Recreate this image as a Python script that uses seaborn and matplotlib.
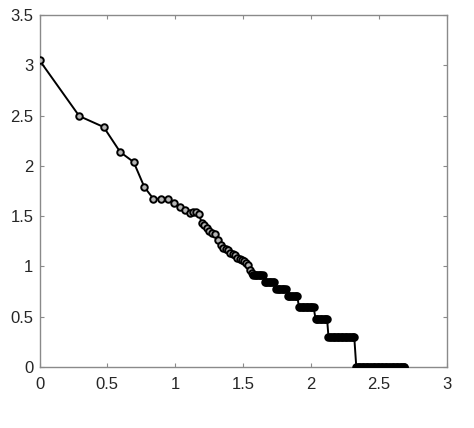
import matplotlib
matplotlib.use("Agg")
import matplotlib.pyplot as plt
import seaborn as sns
import pandas as pd

# ---- data ----
head_x = [0.0, 0.293, 0.473, 0.595, 0.694, 0.773, 0.839, 0.898, 0.947, 0.994,
          1.038, 1.075, 1.109, 1.129, 1.150, 1.175]
head_y = [3.05, 2.495, 2.386, 2.137, 2.038, 1.789, 1.673, 1.673, 1.667, 1.633,
          1.594, 1.557, 1.534, 1.544, 1.538, 1.522]

mid_x = [1.195, 1.213, 1.232, 1.251, 1.272, 1.293, 1.318, 1.338, 1.355, 1.372,
         1.390, 1.406, 1.423, 1.440, 1.458, 1.475, 1.490, 1.505, 1.520, 1.535,
         1.552, 1.565]
mid_y = [1.435, 1.410, 1.385, 1.350, 1.335, 1.325, 1.265, 1.215, 1.180, 1.170,
         1.160, 1.135, 1.120, 1.110, 1.085, 1.075, 1.065, 1.050, 1.030, 1.010,
         0.960, 0.935]

step_levels = [0.91, 0.85, 0.78, 0.705, 0.60, 0.475, 0.30, 0.0]
step_xs = [
    [1.575, 1.585, 1.595, 1.605, 1.615, 1.625, 1.635, 1.645],
    [1.660, 1.670, 1.680, 1.690, 1.700, 1.710, 1.720, 1.730],
    [1.745, 1.755, 1.765, 1.775, 1.785, 1.795, 1.805, 1.815],
    [1.830, 1.840, 1.850, 1.860, 1.870, 1.880, 1.890, 1.900],
    [1.912, 1.922, 1.932, 1.942, 1.952, 1.962, 1.972, 1.982, 1.992, 2.002,
     2.012, 2.020],
    [2.035, 2.045, 2.055, 2.065, 2.075, 2.085, 2.095, 2.105, 2.115, 2.120],
    [2.130, 2.140, 2.150, 2.160, 2.170, 2.180, 2.190, 2.200, 2.210, 2.220,
     2.230, 2.240, 2.250, 2.260, 2.270, 2.280, 2.290, 2.300, 2.310, 2.320],
    [2.335, 2.345, 2.355, 2.365, 2.375, 2.385, 2.395, 2.405, 2.415, 2.425,
     2.435, 2.445, 2.455, 2.465, 2.475, 2.485, 2.495, 2.505, 2.515, 2.525,
     2.535, 2.545, 2.555, 2.565, 2.575, 2.585, 2.595, 2.605, 2.615, 2.625,
     2.635, 2.645, 2.655, 2.665, 2.675, 2.685, 2.690],
]

x_ticks = [0, 0.5, 1, 1.5, 2, 2.5, 3]
x_tick_labels = ["0", "0.5", "1", "1.5", "2", "2.5", "3"]
y_ticks = [0, 0.5, 1, 1.5, 2, 2.5, 3, 3.5]
y_tick_labels = ["0", "0.5", "1", "1.5", "2", "2.5", "3", "3.5"]

# ---- assemble ----
sx_all, sy_all = [], []
for lvl, sx in zip(step_levels, step_xs):
    sx_all += sx
    sy_all += [lvl] * len(sx)
df_sparse = pd.DataFrame({"x": head_x + mid_x, "y": head_y + mid_y})
df_steps = pd.DataFrame({"x": sx_all, "y": sy_all})
df = pd.concat([df_sparse, df_steps], ignore_index=True)

sns.set_theme(style="white")
plt.rcParams["font.family"] = ["Liberation Sans", "DejaVu Sans"]

fig = plt.figure(figsize=(4.74, 4.28), dpi=100)
ax = fig.add_axes([39.5 / 474, 61 / 428, 407 / 474, 352 / 428])

sns.lineplot(data=df, x="x", y="y", ax=ax, sort=False, estimator=None,
             color="black", linewidth=1.4)
sns.scatterplot(data=df_sparse, x="x", y="y", ax=ax, s=22, marker="o",
                facecolor="#b5b5b5", edgecolor="black", linewidth=1.4,
                zorder=3)
sns.scatterplot(data=df_steps, x="x", y="y", ax=ax, s=24, marker="o",
                facecolor="black", edgecolor="black", linewidth=1.2,
                zorder=3)

ax.set_xlim(0, 3)
ax.set_ylim(0, 3.5)
ax.set_xticks(x_ticks)
ax.set_xticklabels(x_tick_labels, fontsize=12, color="#262626")
ax.set_yticks(y_ticks)
ax.set_yticklabels(y_tick_labels, fontsize=12, color="#262626")
ax.set_xlabel("")
ax.set_ylabel("")

for s in ax.spines.values():
    s.set_visible(True)
    s.set_color("#8a8a8a")
    s.set_linewidth(1.0)

ax.tick_params(axis="both", which="both", direction="in", length=3,
               width=0.8, color="#8a8a8a",
               top=True, right=True, bottom=True, left=True)
ax.tick_params(axis="x", pad=7)
ax.tick_params(axis="y", pad=4.5)

fig.savefig("out.png", dpi=100, facecolor="white")
